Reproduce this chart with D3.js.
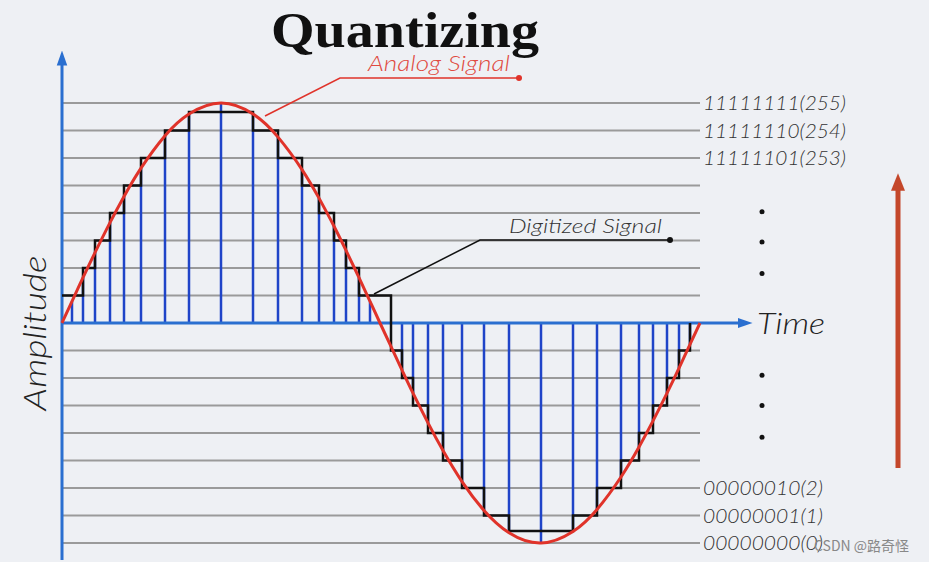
<!DOCTYPE html>
<html>
<head>
<meta charset="utf-8">
<script src="https://cdn.jsdelivr.net/npm/d3@7"></script>
<style>
  body { margin: 0; background: #eef0f4; }
  svg { display: block; }
</style>
</head>
<body>
<svg id="chart" width="929" height="562"></svg>
<script>
// time in units (0..640 = one period), amplitude in quantizing levels (-8..8)
const sampleTimes = [10, 21, 33, 48, 62, 79, 103, 127, 159, 191, 216, 240, 257, 272, 284, 297, 308,
  340, 351, 366, 381, 400, 422, 447, 479, 511, 535, 559, 577, 591, 605, 617, 628];
const sampleValues = [0.79, 1.65, 2.56, 3.65, 4.6, 5.63, 6.81, 7.6, 8, 7.6, 6.76, 5.58, 4.54, 3.52, 2.64, 1.65, 0.79,
  -1.71, -2.55, -3.63, -4.64, -5.77, -6.82, -7.63, -8, -7.58, -6.78, -5.6, -4.51, -3.56, -2.55, -1.64, -0.78];
const zeroTimes = [0, 318, 638];

const stepEdges = [0, 21, 33, 48, 62, 79, 103, 127, 191, 216, 240, 257, 272, 284, 297, 329,
  340, 351, 366, 381, 400, 422, 447, 511, 535, 559, 577, 591, 605, 617, 628];
const stepLevels = [1, 2, 3, 4, 5, 6, 7, 7.67, 7, 6, 5, 4, 3, 2, 1,
  -1, -2, -3, -4, -5, -6, -7, -7.56, -7, -6, -5, -4, -3, -2, -1];

const levelLines = [8, 7, 6, 5, 4, 3, 2, 1, -1, -2, -3, -4, -5, -6, -7, -8];
const codeLabels = [
  { level: 8, text: "11111111(255)", width: 143 },
  { level: 7, text: "11111110(254)", width: 143 },
  { level: 6, text: "11111101(253)", width: 143 },
  { level: -6, text: "00000010(2)", width: 120 },
  { level: -7, text: "00000001(1)", width: 120 },
  { level: -8, text: "00000000(0)", width: 120 }
];
const dotLevels = [4.05, 2.95, 1.8, -1.9, -3, -4.15];

const svg = d3.select("#chart");
const x = d3.scaleLinear().domain([0, 640]).range([62, 702]);
const y = d3.scaleLinear().domain([-8, 8]).range([543, 103]);
const labelFont = "Lato";

// grid
svg.selectAll(".grid").data(levelLines).enter().append("line")
  .attr("x1", x(0)).attr("x2", x(638))
  .attr("y1", d => y(d)).attr("y2", d => y(d))
  .attr("stroke", "#9a9a9a").attr("stroke-width", 2);

// code labels
svg.selectAll(".code").data(codeLabels).enter().append("text")
  .attr("x", 703).attr("y", d => y(d.level) + 7)
  .attr("font-family", labelFont).attr("font-style", "italic").attr("font-weight", 300)
  .attr("font-size", 20).attr("fill", "#333")
  .attr("textLength", d => d.width).attr("lengthAdjust", "spacingAndGlyphs")
  .text(d => d.text);

svg.selectAll(".dot").data(dotLevels).enter().append("circle")
  .attr("cx", 762).attr("cy", d => y(d))
  .attr("r", 2.5).attr("fill", "#111");

// blue samples
svg.selectAll(".sample").data(sampleTimes).enter().append("line")
  .attr("x1", d => x(d)).attr("x2", d => x(d))
  .attr("y1", y(0)).attr("y2", (d, i) => y(sampleValues[i]))
  .attr("stroke", "#1f44c8").attr("stroke-width", 2.5);

// axes
const defs = svg.append("defs");
defs.append("marker").attr("id", "blueArrow").attr("viewBox", "0 0 10 10")
  .attr("refX", 5).attr("refY", 5).attr("markerWidth", 5).attr("markerHeight", 5)
  .attr("orient", "auto")
  .append("path").attr("d", "M0,1.5 L10,5 L0,8.5 Z").attr("fill", "#2a6fd0");
defs.append("marker").attr("id", "redArrow").attr("viewBox", "0 0 10 10")
  .attr("refX", 5).attr("refY", 5).attr("markerWidth", 3.5).attr("markerHeight", 3.5)
  .attr("orient", "auto")
  .append("path").attr("d", "M0,1 L10,5 L0,9 Z").attr("fill", "#c4472a");

svg.append("line").attr("x1", x(0)).attr("x2", 745).attr("y1", y(0)).attr("y2", y(0))
  .attr("stroke", "#2a6fd0").attr("stroke-width", 3).attr("marker-end", "url(#blueArrow)");
svg.append("line").attr("x1", x(0)).attr("x2", x(0)).attr("y1", 560).attr("y2", 58)
  .attr("stroke", "#2a6fd0").attr("stroke-width", 3).attr("marker-end", "url(#blueArrow)");

// staircase
const stairPts = [];
stepLevels.forEach((v, i) => {
  stairPts.push([stepEdges[i], v]);
  stairPts.push([i + 1 < stepEdges.length ? stepEdges[i + 1] : 628, v]);
});
stairPts.push([628, 0]);
svg.append("path")
  .attr("d", d3.line().x(d => x(d[0])).y(d => y(d[1]))(stairPts))
  .attr("fill", "none").attr("stroke", "#111").attr("stroke-width", 2.5);

// analog signal
const analog = sampleTimes.map((t, i) => [t, sampleValues[i]])
  .concat(zeroTimes.map(t => [t, 0]))
  .sort((a, b) => a[0] - b[0]);
svg.append("path")
  .attr("d", d3.line().curve(d3.curveNatural).x(d => x(d[0])).y(d => y(d[1]))(analog))
  .attr("fill", "none").attr("stroke", "#e0332a").attr("stroke-width", 3);

// callouts
svg.append("polyline").attr("points", "265,116 340,78 519,78")
  .attr("fill", "none").attr("stroke", "#e0332a").attr("stroke-width", 1.5);
svg.append("circle").attr("cx", 519).attr("cy", 78).attr("r", 3).attr("fill", "#e0332a");
svg.append("text").attr("x", 368).attr("y", 71)
  .attr("font-family", labelFont).attr("font-style", "italic").attr("font-weight", 300)
  .attr("font-size", 21).attr("fill", "#e04a40")
  .attr("textLength", 142).attr("lengthAdjust", "spacingAndGlyphs").text("Analog Signal");

svg.append("polyline").attr("points", "374,294 480,240 670,240")
  .attr("fill", "none").attr("stroke", "#111").attr("stroke-width", 1.5);
svg.append("circle").attr("cx", 670).attr("cy", 240).attr("r", 3).attr("fill", "#111");
svg.append("text").attr("x", 509).attr("y", 233)
  .attr("font-family", labelFont).attr("font-style", "italic").attr("font-weight", 300)
  .attr("font-size", 20).attr("fill", "#333")
  .attr("textLength", 153).attr("lengthAdjust", "spacingAndGlyphs").text("Digitized Signal");

// titles
svg.append("text").attr("x", 405).attr("y", 47).attr("text-anchor", "middle")
  .attr("font-family", "Liberation Serif").attr("font-weight", "bold")
  .attr("font-size", 50).attr("fill", "#111")
  .attr("textLength", 268).attr("lengthAdjust", "spacingAndGlyphs").text("Quantizing");
svg.append("text").attr("x", 757).attr("y", 334)
  .attr("font-family", labelFont).attr("font-style", "italic").attr("font-weight", 300)
  .attr("font-size", 30).attr("fill", "#222")
  .attr("textLength", 68).attr("lengthAdjust", "spacingAndGlyphs").text("Time");
svg.append("text").attr("transform", "translate(46,333) rotate(-90)").attr("text-anchor", "middle")
  .attr("font-family", labelFont).attr("font-style", "italic").attr("font-weight", 300)
  .attr("font-size", 31).attr("fill", "#222")
  .attr("textLength", 155).attr("lengthAdjust", "spacingAndGlyphs").text("Amplitude");

// red arrow
svg.append("line").attr("x1", 898).attr("x2", 898).attr("y1", 468).attr("y2", 182)
  .attr("stroke", "#c4472a").attr("stroke-width", 5).attr("marker-end", "url(#redArrow)");

svg.append("text").attr("x", 814).attr("y", 551)
  .attr("font-family", "Noto Sans CJK SC").attr("font-size", 14).attr("fill", "#888")
  .text("CSDN @路奇怪");
</script>
</body>
</html>
